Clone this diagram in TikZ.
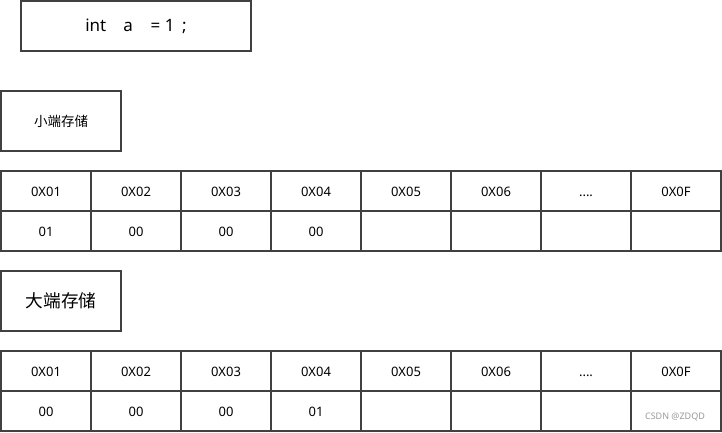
\documentclass[tikz,border=0pt]{standalone}
\usepackage{fontspec}
\setmainfont{Noto Sans}
\newfontfamily\cjk{Noto Sans CJK SC}
\newcommand\celldots{....}
\begin{document}
\begin{tikzpicture}[x=1pt, y=-1pt, line width=1.6pt,
  box/.style={rectangle,draw=black!75,inner sep=0pt},
  cell/.style={box,minimum width=90pt,minimum height=40pt,text height=1.9ex,text depth=0ex,font=\fontsize{13}{15}\selectfont}]
\useasboundingbox (0,0) rectangle (722,432);
\begin{scope}
\node[box,minimum width=230pt,minimum height=50pt,font=\fontsize{17}{20}\selectfont] (code) at (136,26) {int\hspace{1em}a\hspace{1.05em}= 1\hspace{0.45em};};
\node[box,minimum width=120pt,minimum height=60pt,font=\cjk\fontsize{13.5}{15}\selectfont] (little) at (61,121) {小端存储};
\node[box,minimum width=120pt,minimum height=60pt,font=\cjk\fontsize{17.7}{20}\selectfont] (big) at (61,301) {大端存储};
\end{scope}
% 小端
\foreach \i/\addr/\val in {1/0X01/01,2/0X02/00,3/0X03/00,4/0X04/00,5/0X05/,6/0X06/,7/\celldots/,8/0X0F/}{
  \node[cell] (la\i) at ({46+90*(\i-1)},191) {\addr};
  \node[cell] (lv\i) at ({46+90*(\i-1)},231) {\val};
}
% 大端
\foreach \i/\addr/\val in {1/0X01/00,2/0X02/00,3/0X03/00,4/0X04/01,5/0X05/,6/0X06/,7/\celldots/,8/0X0F/}{
  \node[cell] (ba\i) at ({46+90*(\i-1)},371) {\addr};
  \node[cell] (bv\i) at ({46+90*(\i-1)},411) {\val};
}
\node[font=\fontsize{9}{10}\selectfont,text=black!40] (mark) at (675,417) {CSDN @ZDQD};
\end{tikzpicture}
\end{document}
